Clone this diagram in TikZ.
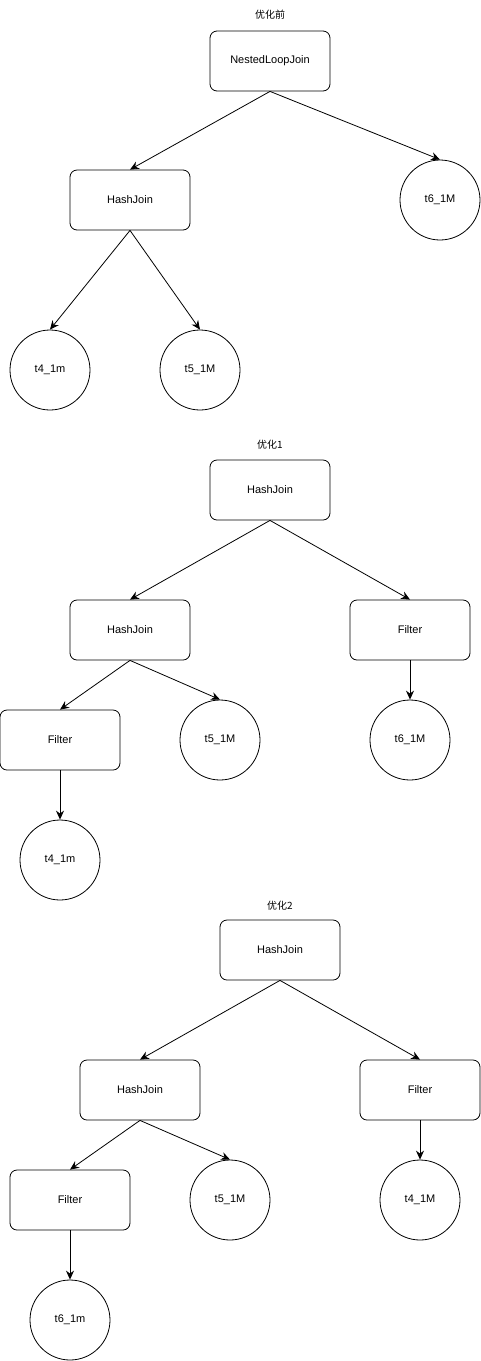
\documentclass[tikz,border=0pt]{standalone}
\usepackage{fontspec}
\setmainfont{Liberation Sans}
\newfontfamily\cjk{Noto Sans CJK SC}
\usetikzlibrary{arrows.meta}

\begin{document}
\begin{tikzpicture}[x=1pt,y=-1pt,
    op/.style={draw,rounded corners=7pt,minimum width=120pt,minimum height=60pt,line width=0.8pt,font=\fontsize{11}{13}\selectfont},
    tbl/.style={draw,circle,minimum size=80pt,inner sep=0pt,line width=0.8pt,font=\fontsize{11}{13}\selectfont},
    ttl/.style={font=\cjk\fontsize{10}{12}\selectfont},
    edge/.style={-{Stealth[length=9pt,width=8pt,inset=3pt]},line width=0.8pt}]
    \useasboundingbox (0,0) rectangle (481,1361);
    \node (ta) at (270,15) [ttl] {优化前};
    \node (nlj) at (270,61) [op] {NestedLoopJoin};
    \node (hja) at (130,200) [op] {HashJoin};
    \node (t6a) at (440,200) [tbl] {t6\_1M};
    \node (t4a) at (50,370) [tbl] {t4\_1m};
    \node (t5a) at (200,370) [tbl] {t5\_1M};
    \draw[edge] (nlj.south) -- (hja.north);
    \draw[edge] (nlj.south) -- (t6a.north);
    \draw[edge] (hja.south) -- (t4a.north);
    \draw[edge] (hja.south) -- (t5a.north);

    \node (tb) at (270,445) [ttl] {优化1};
    \node (hjb) at (270,490) [op] {HashJoin};
    \node (hjbl) at (130,630) [op] {HashJoin};
    \node (fbr) at (410,630) [op] {Filter};
    \node (fbl) at (60,740) [op] {Filter};
    \node (t5b) at (220,740) [tbl] {t5\_1M};
    \node (t6b) at (410,740) [tbl] {t6\_1M};
    \node (t4b) at (60,860) [tbl] {t4\_1m};
    \draw[edge] (hjb.south) -- (hjbl.north);
    \draw[edge] (hjb.south) -- (fbr.north);
    \draw[edge] (hjbl.south) -- (fbl.north);
    \draw[edge] (hjbl.south) -- (t5b.north);
    \draw[edge] (fbr.south) -- (t6b.north);
    \draw[edge] (fbl.south) -- (t4b.north);

    \node (tc) at (280,906) [ttl] {优化2};
    \node (hjc) at (280,950) [op] {HashJoin};
    \node (hjcl) at (140,1090) [op] {HashJoin};
    \node (fcr) at (420,1090) [op] {Filter};
    \node (fcl) at (70,1200) [op] {Filter};
    \node (t5c) at (230,1200) [tbl] {t5\_1M};
    \node (t4c) at (420,1200) [tbl] {t4\_1M};
    \node (t6c) at (70,1320) [tbl] {t6\_1m};
    \draw[edge] (hjc.south) -- (hjcl.north);
    \draw[edge] (hjc.south) -- (fcr.north);
    \draw[edge] (hjcl.south) -- (fcl.north);
    \draw[edge] (hjcl.south) -- (t5c.north);
    \draw[edge] (fcr.south) -- (t4c.north);
    \draw[edge] (fcl.south) -- (t6c.north);
  \end{tikzpicture}
\end{document}
